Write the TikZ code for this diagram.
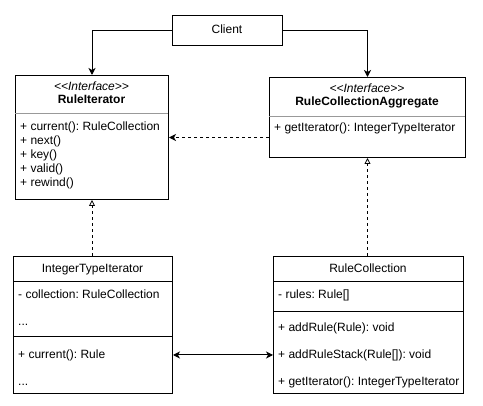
\documentclass[tikz,border=0pt]{standalone}
\usepackage{fontspec}
\setmainfont{Liberation Sans}
\usetikzlibrary{arrows.meta}
\frenchspacing
\begin{document}
\begin{tikzpicture}[x=1pt,y=-1pt,
  every node/.style={font=\fontsize{12}{14}\selectfont},
  box/.style={draw,line width=1pt,anchor=north west,inner sep=0pt},
  txt/.style={anchor=base west,inner sep=0pt},
  ctxt/.style={anchor=base,inner sep=0pt},
  sep/.style={line width=1pt},
  gsep/.style={line width=1pt,draw=gray!80},
  assoc/.style={line width=1pt,-{Stealth[length=7pt,width=7pt,inset=2pt]}},
  dep/.style={line width=1pt,dash pattern=on 3pt off 3pt,-{Stealth[length=7pt,width=7pt,inset=2pt]}},
  real/.style={line width=1pt,dash pattern=on 3pt off 3pt,-{Triangle[open,length=6pt,width=6pt,line width=0.8pt]}},
  bidir/.style={line width=1pt,{Stealth[length=7pt,width=7pt,inset=2pt]}-{Stealth[length=7pt,width=7pt,inset=2pt]}}]
\useasboundingbox (0,0) rectangle (483,406);
% Client
\node[box,minimum width=110pt,minimum height=30pt] (client) at (172,15) {};
\node[ctxt] (clientt) at (227,34) {Client};
% RuleIterator
\node[box,minimum width=153pt,minimum height=124pt] (ri) at (15,75) {};
\draw[gsep] (15,114) -- (168,114);
\node[ctxt] (rii) at (91.5,91) {\itshape {<}{<}Interface{>}{>}};
\node[ctxt] (rin) at (91.5,104) {\bfseries RuleIterator};
\node[txt] (ri1) at (20,131) {+ current(): RuleCollection};
\node[txt] (ri2) at (20,145) {+ next()};
\node[txt] (ri3) at (20,159) {+ key()};
\node[txt] (ri4) at (20,173) {+ valid()};
\node[txt] (ri5) at (20,187) {+ rewind()};
% RuleCollectionAggregate
\node[box,minimum width=196pt,minimum height=80pt] (rca) at (269,77) {};
\draw[gsep] (269,117) -- (465,117);
\node[ctxt] (rcai) at (367,93) {\itshape {<}{<}Interface{>}{>}};
\node[ctxt] (rcan) at (367,106) {\bfseries RuleCollectionAggregate};
\node[txt] (rca1) at (274,132) {+ getIterator(): IntegerTypeIterator};
% IntegerTypeIterator
\node[box,minimum width=159pt,minimum height=137pt] (it) at (13,256) {};
\draw[sep] (13,282) -- (172,282);
\draw[sep] (13,337) -- (172,337);
\node[ctxt] (itn) at (92.5,273) {IntegerTypeIterator};
\node[txt] (it1) at (18,299) {- collection: RuleCollection};
\node[txt] (it2) at (18,326) {...};
\node[txt] (it3) at (18,359) {+ current(): Rule};
\node[txt] (it4) at (18,386) {...};
% RuleCollection
\node[box,minimum width=190pt,minimum height=137pt] (rc) at (273,256) {};
\draw[sep] (273,282) -- (463,282);
\draw[sep] (273,312) -- (463,312);
\node[ctxt] (rcn) at (368,273) {RuleCollection};
\node[txt] (rc1) at (278,299) {- rules: Rule[]};
\node[txt] (rc2) at (278,332) {+ addRule(Rule): void};
\node[txt] (rc3) at (278,359) {+ addRuleStack(Rule[]): void};
\node[txt] (rc4) at (278,386) {+ getIterator(): IntegerTypeIterator};
% connectors
\draw[assoc] (client.west) -| (ri.north);
\draw[assoc] (client.east) -| (rca.north);
\draw[dep] (rca.west |- ri.east) -- (ri.east);
\draw[real] (it.north -| ri.south) -- (ri.south);
\draw[real] (rc.north -| rca.south) -- (rca.south);
\coordinate (bl) at (0,355);
\draw[bidir] (it.east |- bl) -- (rc.west |- bl);
\end{tikzpicture}
\end{document}
